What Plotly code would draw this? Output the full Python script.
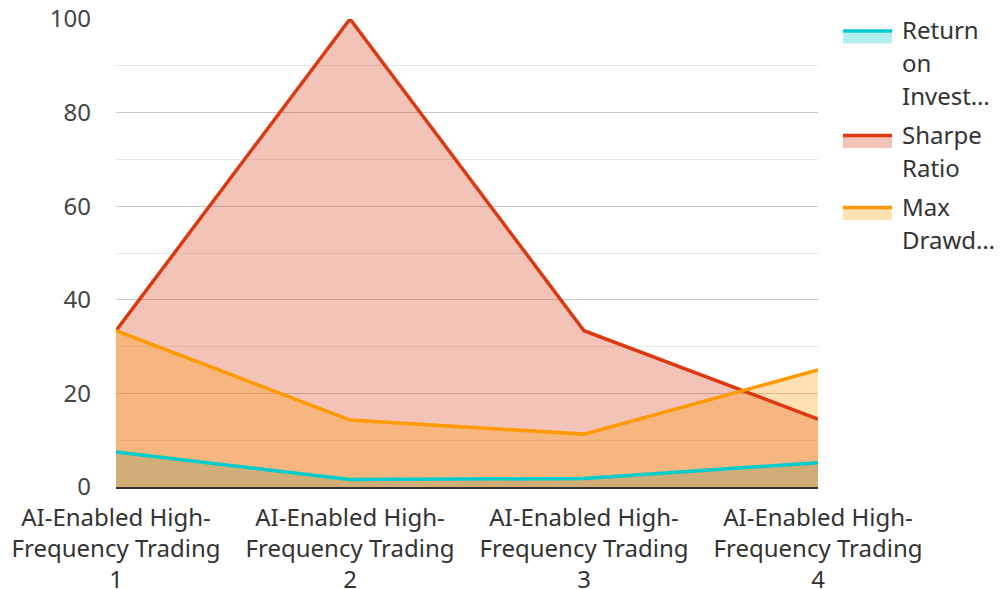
import plotly.graph_objects as go

categories = ["AI-Enabled High-Frequency Trading 1", "AI-Enabled High-Frequency Trading 2",
              "AI-Enabled High-Frequency Trading 3", "AI-Enabled High-Frequency Trading 4"]
tick_labels = ["AI-Enabled High-<br>Frequency Trading<br>1", "AI-Enabled High-<br>Frequency Trading<br>2",
               "AI-Enabled High-<br>Frequency Trading<br>3", "AI-Enabled High-<br>Frequency Trading<br>4"]
series_names = ["Return on Investment", "Sharpe Ratio", "Max Drawdown"]
legend_lines = [["Return", "on", "Invest…"], ["Sharpe", "Ratio"], ["Max", "Drawd…"]]
roi = [7.5, 1.6, 1.8, 5.2]
sharpe = [33.4, 100, 33.4, 14.5]
max_dd = [33.4, 14.3, 11.3, 25.0]

colors = ["#00CCCC", "#DC3912", "#FF9900"]
fills = ["rgba(0,204,204,0.3)", "rgba(220,57,18,0.3)", "rgba(255,153,0,0.3)"]
FONT = "Noto Sans"
FS = 24

fig = go.Figure()
all_vals = [roi, sharpe, max_dd]
# fills first
for name, vals, f in zip(series_names, all_vals, fills):
    fig.add_trace(go.Scatter(x=categories, y=vals, name=name, mode="lines",
                             line=dict(width=0), fill="tozeroy", fillcolor=f,
                             showlegend=False, hoverinfo="skip"))
# lines on top
for name, vals, c in zip(series_names, all_vals, colors):
    fig.add_trace(go.Scatter(x=categories, y=vals, name=name, mode="lines",
                             line=dict(color=c, width=3.5), showlegend=False))

# custom legend
L0, L1 = 843, 892
line_y = [31, 135.5, 207.5]
for i, (c, f) in enumerate(zip(colors, fills)):
    y = line_y[i]
    fig.add_shape(type="rect", xref="paper", yref="paper",
                  x0=(L0 - 116) / 702, x1=(L1 - 116) / 702,
                  y0=(487 - (y + 12.5)) / 468, y1=(487 - (y + 1.5)) / 468,
                  fillcolor=f, line=dict(width=0))
    fig.add_shape(type="line", xref="paper", yref="paper",
                  x0=(L0 - 116) / 702, x1=(L1 - 116) / 702,
                  y0=(487 - y) / 468, y1=(487 - y) / 468,
                  line=dict(color=c, width=3.5))
    for j, txt in enumerate(legend_lines[i]):
        ty = y + 33 * j - 1.5
        fig.add_annotation(x=(902 - 116) / 702, y=(487 - ty) / 468, xref="paper", yref="paper",
                           text=txt, showarrow=False, xanchor="left", yanchor="middle",
                           xshift=-2, font=dict(family=FONT, size=FS, color="#333333"))

fig.update_layout(
    width=1000, height=589,
    margin=dict(l=116, r=182, t=19, b=102, autoexpand=False),
    paper_bgcolor="white", plot_bgcolor="white",
    font=dict(family=FONT, size=FS, color="#444444"),
    showlegend=False,
    xaxis=dict(type="category", range=[0, 3], tickmode="array", tickvals=categories,
               ticktext=tick_labels, showgrid=False, showline=True, linecolor="#333333",
               linewidth=2, ticks="", automargin=False, ticklabelstandoff=8,
               tickfont=dict(size=FS, color="#333333")),
    yaxis=dict(range=[0, 100], dtick=20, showgrid=True, gridcolor="#c8c8c8", gridwidth=1,
               zeroline=False, ticks="", ticklabelstandoff=24, automargin=False,
               tickfont=dict(size=FS, color="#444444"),
               minor=dict(dtick=10, showgrid=True, gridcolor="#e8e8e8", gridwidth=1)),
)

fig.write_html("out.html", config={"displayModeBar": False},
               post_script="document.body.style.margin='0';document.body.style.overflow='hidden';")
